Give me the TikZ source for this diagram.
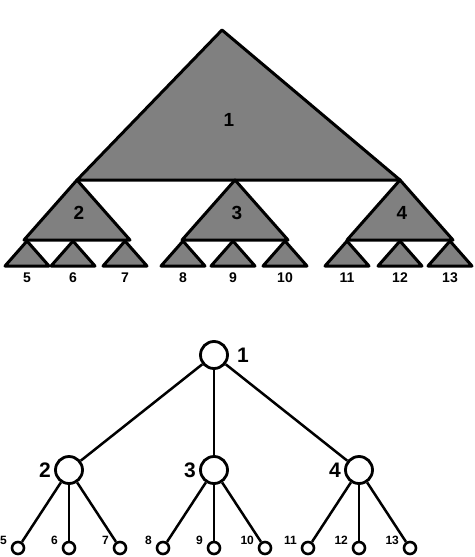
\documentclass[tikz,border=0pt]{standalone}
\usepackage{fontspec}
\setmainfont{Liberation Sans}
\begin{document}
\begin{tikzpicture}[x=1pt, y=-1pt, line join=round,
  tri/.style={draw, line width=3pt, fill=black!50},
  num/.style={font=\bfseries\fontsize{#1}{#1}\selectfont, inner sep=0pt},
  big/.style={circle, draw, line width=2.8pt, minimum size=27pt, inner sep=0pt},
  small/.style={circle, draw, line width=2.6pt, minimum size=12pt, inner sep=0pt},
  level 1/.style={sibling distance=145pt, level distance=115pt},
  level 2/.style={sibling distance=51pt, level distance=78pt},
  edge from parent/.style={draw, line width=2.5pt}]
  \useasboundingbox (0,0) rectangle (474,557);
  % whole tree
  \draw[tri] (222,30) -- (400,180) -- (77,180) -- cycle;
  \node[num=19] (t1) at (229,120) {1};
  % second level
  \foreach \x/\n in {77/2, 235/3, 400/4} {
    \draw[tri] (\x,180) -- ++(53,60) -- ++(-106,0) -- cycle;
    \node[num=19] (t\n) at (\x+2,213) {\n};
  }
  % leaves
  \foreach \x/\n in {27/5, 73/6, 125/7, 183/8, 233/9, 285/10, 347/11, 400/12, 450/13} {
    \draw[tri] (\x,241) -- ++(22,25) -- ++(-44,0) -- cycle;
    \node[num=14] (t\n) at (\x,278) {\n};
  }
  % the same tree as nodes
  \node[big, label={[num=21, label distance=8pt]right:1}] (r1) at (214,355) {}
    child { node[big, label={[num=21, label distance=3pt]left:2}] (r2) {}
      child { node[small, label={[num=12, label distance=4pt]165:5}] (r5) {} }
      child { node[small, label={[num=12, label distance=4pt]165:6}] (r6) {} }
      child { node[small, label={[num=12, label distance=4pt]165:7}] (r7) {} }
    }
    child { node[big, label={[num=21, label distance=3pt]left:3}] (r3) {}
      child { node[small, label={[num=12, label distance=4pt]165:8}] (r8) {} }
      child { node[small, label={[num=12, label distance=4pt]165:9}] (r9) {} }
      child { node[small, label={[num=12, label distance=4pt]165:10}] (r10) {} }
    }
    child { node[big, label={[num=21, label distance=3pt]left:4}] (r4) {}
      child { node[small, label={[num=12, label distance=4pt]165:11}] (r11) {} }
      child { node[small, label={[num=12, label distance=4pt]165:12}] (r12) {} }
      child { node[small, label={[num=12, label distance=4pt]165:13}] (r13) {} }
    };
\end{tikzpicture}
\end{document}
